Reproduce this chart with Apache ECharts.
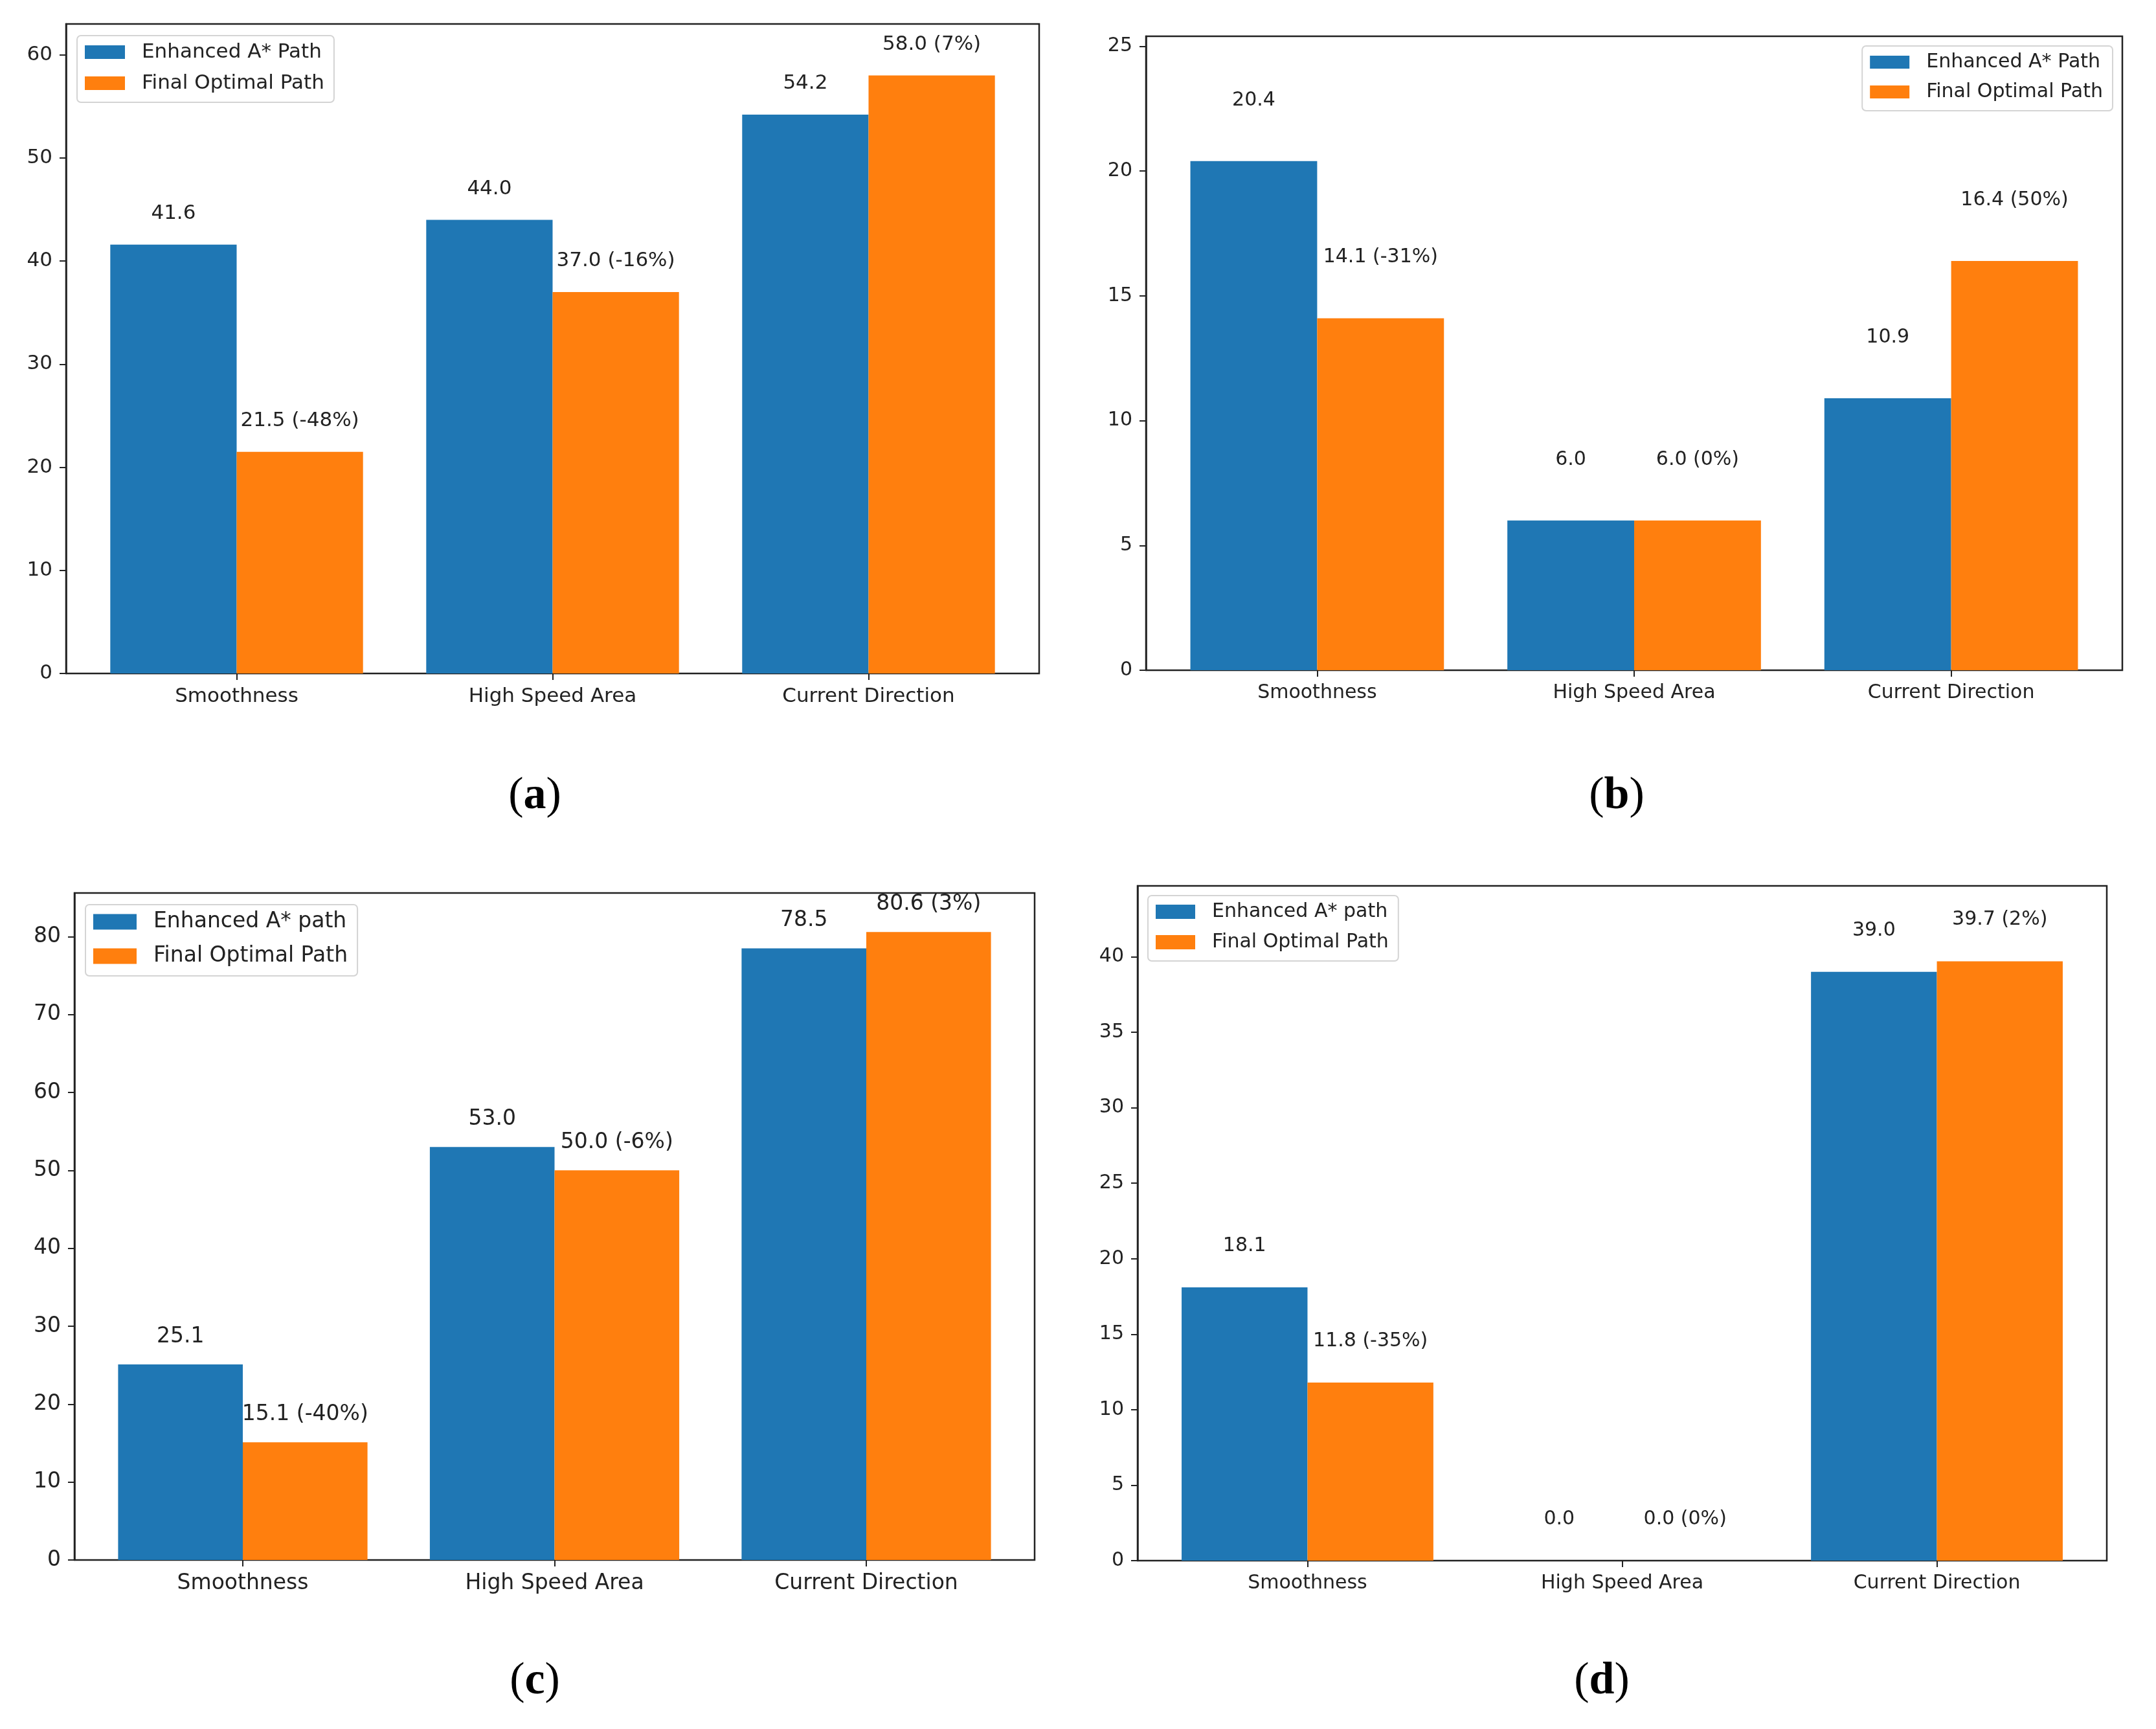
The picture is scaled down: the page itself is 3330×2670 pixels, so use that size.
<!DOCTYPE html>
<html>
<head>
<meta charset="utf-8">
<script src="https://cdn.jsdelivr.net/npm/echarts@6/dist/echarts.min.js"></script>
<style>
  html, body { margin: 0; padding: 0; background: #fff; }
  #chart { width: 3330px; height: 2670px; }
</style>
</head>
<body>
<div id="chart"></div>
<script>
/* Enhanced A* vs final optimal path — four panel bar comparison */
const categories = ['Smoothness', 'High Speed Area', 'Current Direction'];
const finalName = 'Final Optimal Path';
const enhancedNames = ['Enhanced A* Path', 'Enhanced A* Path', 'Enhanced A* path', 'Enhanced A* path'];
const subLabels = ['a', 'b', 'c', 'd'];

const aEnhanced = [41.6, 44.0, 54.2];
const aFinal = [21.5, 37.0, 58.0];
const aChange = ['-48%', '-16%', '7%'];
const aTicks = [0, 10, 20, 30, 40, 50, 60];

const bEnhanced = [20.4, 6.0, 10.9];
const bFinal = [14.1, 6.0, 16.4];
const bChange = ['-31%', '0%', '50%'];
const bTicks = [0, 5, 10, 15, 20, 25];

const cEnhanced = [25.1, 53.0, 78.5];
const cFinal = [15.1, 50.0, 80.6];
const cChange = ['-40%', '-6%', '3%'];
const cTicks = [0, 10, 20, 30, 40, 50, 60, 70, 80];

const dEnhanced = [18.1, 0.0, 39.0];
const dFinal = [11.8, 0.0, 39.7];
const dChange = ['-35%', '0%', '2%'];
const dTicks = [0, 5, 10, 15, 20, 25, 30, 35, 40];

const yMax = [63.0, 25.4, 85.6, 44.7];

const BLUE = '#1f77b4';
const ORANGE = '#ff7f0e';
const INK = '#222';
const FONT = '"DejaVu Sans", sans-serif';

// layout of each panel (pixels)
const layout = [
  { box: { left: 102, top: 37, width: 1503, height: 1003 }, font: 31, gap: 48,
    legend: { left: 119, top: 55 }, patch: [62, 21], rowGap: 48, cap: [826, 1230] },
  { box: { left: 1770, top: 56, width: 1508, height: 979 }, font: 30, gap: 94,
    legend: { right: 67, top: 71 }, patch: [61, 20], rowGap: 46, cap: [2497, 1230] },
  { box: { left: 115, top: 1379, width: 1483, height: 1030 }, font: 33, gap: 43,
    legend: { left: 132, top: 1397 }, patch: [67, 24], rowGap: 53, cap: [826, 2597] },
  { box: { left: 1757, top: 1368, width: 1497, height: 1042 }, font: 30, gap: 64,
    legend: { left: 1773, top: 1383 }, patch: [61, 22], rowGap: 47, cap: [2474, 2597] },
];

const enhancedData = [aEnhanced, bEnhanced, cEnhanced, dEnhanced];
const finalData = [aFinal, bFinal, cFinal, dFinal];
const changeData = [aChange, bChange, cChange, dChange];
const tickData = [aTicks, bTicks, cTicks, dTicks];

const grid = [], xAxis = [], yAxis = [], series = [], legend = [], graphic = [];

layout.forEach((L, i) => {
  const b = L.box;
  // matplotlib pads the x range by 0.04 category on each side
  const inset = b.width * 0.04 / 3.08;
  const outer = grid.length;
  grid.push({ left: b.left, top: b.top, width: b.width, height: b.height,
    show: true, borderColor: INK, borderWidth: 2.5, backgroundColor: 'transparent' });
  grid.push({ left: b.left + inset, top: b.top, width: b.width - 2 * inset, height: b.height });

  const yCommon = { type: 'value', min: 0, max: yMax[i] };
  xAxis.push({ gridIndex: outer, type: 'value', min: 0, max: 1, show: false });
  yAxis.push(Object.assign({ gridIndex: outer }, yCommon, {
    axisLine: { show: true, lineStyle: { color: INK, width: 2.5 } },
    axisTick: { show: true, length: 10, customValues: tickData[i], lineStyle: { color: INK, width: 2 } },
    axisLabel: { fontSize: L.font, fontFamily: FONT, color: INK, margin: 21, customValues: tickData[i] },
    splitLine: { show: false },
  }));

  xAxis.push({ gridIndex: outer + 1, type: 'category', data: categories,
    axisLine: { show: false },
    axisTick: { show: true, alignWithLabel: true, length: 10, lineStyle: { color: INK, width: 2 } },
    axisLabel: { fontSize: L.font, fontFamily: FONT, color: INK, margin: 20, interval: 0 } });
  yAxis.push(Object.assign({ gridIndex: outer + 1, show: false, splitLine: { show: false } }, yCommon));

  const lbl = { show: true, position: 'top', distance: L.gap, verticalAlign: 'middle',
    fontSize: L.font, fontFamily: FONT, color: INK };
  series.push({
    name: enhancedNames[i], type: 'bar', xAxisIndex: outer + 1, yAxisIndex: outer + 1,
    data: enhancedData[i], barWidth: '40%', barGap: '0%', itemStyle: { color: BLUE },
    label: Object.assign({}, lbl, { formatter: (p) => p.value.toFixed(1) }),
  });
  series.push({
    name: finalName, type: 'bar', xAxisIndex: outer + 1, yAxisIndex: outer + 1,
    data: finalData[i], barWidth: '40%', barGap: '0%', itemStyle: { color: ORANGE },
    label: Object.assign({}, lbl, {
      formatter: (p) => `${p.value.toFixed(1)} (${changeData[i][p.dataIndex]})`,
    }),
  });

  legend.push(Object.assign({
    orient: 'vertical', data: [enhancedNames[i], finalName], selectedMode: false,
    icon: 'rect', itemWidth: L.patch[0], itemHeight: L.patch[1], itemGap: L.rowGap - L.font,
    padding: [10, 15, 14, 12],
    backgroundColor: 'rgba(255,255,255,0.8)', borderColor: '#d4d4d4', borderWidth: 2, borderRadius: 6,
    textStyle: { fontSize: L.font, fontFamily: FONT, color: INK, lineHeight: L.font, padding: [0, 0, 0, 21] },
  }, L.legend));

  graphic.push({
    type: 'text', x: L.cap[0], y: L.cap[1],
    style: {
      text: `{p|(}{l|${subLabels[i]}}{p|)}`,
      align: 'center', verticalAlign: 'middle',
      rich: {
        p: { fontFamily: '"Liberation Serif", serif', fontSize: 70, fill: '#000' },
        l: { fontFamily: '"Liberation Serif", serif', fontSize: 70, fontWeight: 'bold', fill: '#000' },
      },
    },
  });
});

const chart = echarts.init(document.getElementById('chart'));
chart.setOption({
  animation: false,
  backgroundColor: '#fff',
  grid, xAxis, yAxis, series, legend, graphic,
});
</script>
</body>
</html>
